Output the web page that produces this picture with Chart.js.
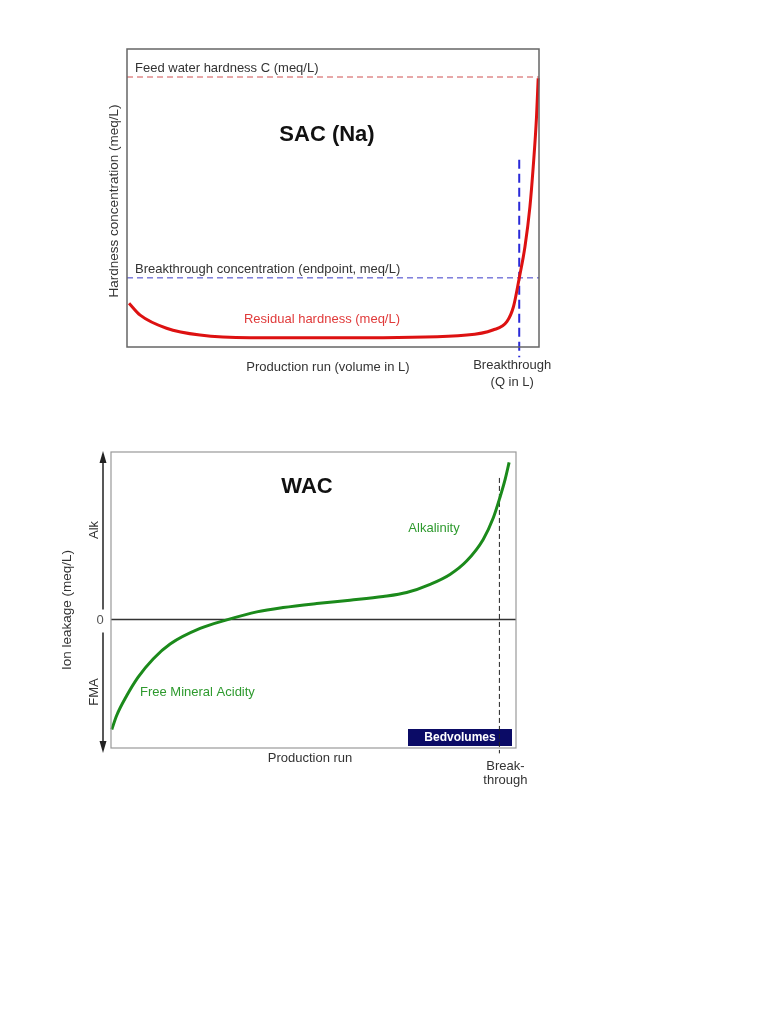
<!DOCTYPE html>
<html>
<head>
<meta charset="utf-8">
<script src="https://cdn.jsdelivr.net/npm/chart.js@4"></script>
<style>
  body { margin: 0; background: #fff; width: 768px; height: 1024px; position: relative; overflow: hidden; }
  canvas { position: absolute; left: 0; }
  #sac { top: 0; }
  #wac { top: 420px; }
</style>
</head>
<body>
<canvas id="sac" width="768" height="420"></canvas>
<canvas id="wac" width="768" height="420"></canvas>
<script>
// SAC (Na) - residual hardness over the production run (x: % of run, y: % of feed hardness)
const sacRunX = [0.5, 3.2, 9.6, 17.7, 29.9, 58.2, 82.5, 88.8, 92.2, 93.8, 95.2, 96.6, 97.8, 98.6, 99.4, 99.8];
const sacHardness = [14.7, 10.7, 6.3, 4.0, 3.1, 3.1, 4.0, 5.7, 8.5, 13.5, 23.1, 33.7, 47.1, 60.5, 77.3, 90.2];
const sacFeedLevel = 90.6;
const sacEndpointLevel = 23.2;
const sacBreakthroughX = 95.2;
const sacMarkerSpan = [62.8, -3.4];

// WAC - ion leakage (negative = free mineral acidity, positive = alkalinity)
const wacRunX = [0.2, 1.4, 3.9, 6.7, 10.4, 14.6, 22.0, 29.0, 36.0, 42.5, 50.8, 59.0, 67.2, 73.0, 78.8, 83.7, 87.8, 91.9, 94.4, 96.0, 97.3, 98.3];
const wacLeakage = [-65.7, -57.4, -45.5, -34.5, -23.6, -14.7, -5.4, 0, 4.5, 7.1, 9.5, 11.5, 13.7, 16.1, 21.0, 26.9, 34.9, 47.8, 60.7, 72.6, 83.5, 93.8];
const wacBreakthroughX = 95.9;
const wacMarkerSpan = [84.5, -80];

const FONT = '"Liberation Sans", Arial, sans-serif';

function pts(xs, ys) {
  return xs.map((x, i) => ({ x: x, y: ys[i] }));
}

function hidden(min, max) {
  return { type: 'linear', min: min, max: max, display: false };
}

function text(ctx, str, x, y, font, color, align) {
  ctx.save();
  ctx.font = font;
  ctx.fillStyle = color;
  ctx.textAlign = align || 'left';
  ctx.textBaseline = 'middle';
  ctx.fillText(str, x, y);
  ctx.restore();
}

function vtext(ctx, str, x, y, font, color) {
  ctx.save();
  ctx.translate(x, y);
  ctx.rotate(-Math.PI / 2);
  text(ctx, str, 0, 0, font, color, 'center');
  ctx.restore();
}

function frame(color, width) {
  return {
    id: 'frame',
    afterDraw(chart) {
      const a = chart.chartArea, ctx = chart.ctx;
      ctx.save();
      ctx.strokeStyle = color;
      ctx.lineWidth = width;
      ctx.strokeRect(a.left, a.top, a.right - a.left, a.bottom - a.top);
      ctx.restore();
    }
  };
}

// ---- SAC chart ----
const sacLabels = {
  id: 'sacLabels',
  afterDraw(chart) {
    const ctx = chart.ctx, a = chart.chartArea;
    const x = chart.scales.x, y = chart.scales.y;
    const f = '13px ' + FONT;
    text(ctx, 'Feed water hardness C (meq/L)', a.left + 8, y.getPixelForValue(sacFeedLevel) - 9, f, '#333');
    text(ctx, 'Breakthrough concentration (endpoint, meq/L)', a.left + 8, y.getPixelForValue(sacEndpointLevel) - 8, f, '#333');
    text(ctx, 'SAC (Na)', 327, 135, 'bold 22px ' + FONT, '#111', 'center');
    text(ctx, 'Residual hardness (meq/L)', 322, 319, f, '#e03a3a', 'center');
    text(ctx, 'Production run (volume in L)', 328, 367, f, '#333', 'center');
    const bx = x.getPixelForValue(sacBreakthroughX);
    text(ctx, 'Breakthrough', bx - 7, 365, f, '#333', 'center');
    text(ctx, '(Q in L)', bx - 7, 382, f, '#333', 'center');
    vtext(ctx, 'Hardness concentration (meq/L)', 114, 201, '13.5px ' + FONT, '#333');
  }
};

new Chart(document.getElementById('sac'), {
  type: 'line',
  data: {
    datasets: [
      {
        data: pts([0, 100], [sacFeedLevel, sacFeedLevel]),
        borderColor: '#d05050', borderWidth: 1, borderDash: [6, 4], pointRadius: 0, order: 3
      },
      {
        data: pts([0, 100], [sacEndpointLevel, sacEndpointLevel]),
        borderColor: '#3a3ac8', borderWidth: 1, borderDash: [6, 4], pointRadius: 0, order: 3
      },
      {
        data: pts([sacBreakthroughX, sacBreakthroughX], sacMarkerSpan),
        borderColor: '#2a2ad8', borderWidth: 2, borderDash: [9, 5], pointRadius: 0, order: 2
      },
      {
        data: pts(sacRunX, sacHardness),
        borderColor: '#dd1111', borderWidth: 3, pointRadius: 0,
        cubicInterpolationMode: 'monotone', order: 1
      }
    ]
  },
  options: {
    responsive: false,
    animation: false,
    layout: { padding: { left: 127, top: 49, right: 229, bottom: 73 } },
    plugins: { legend: { display: false }, tooltip: { enabled: false } },
    scales: { x: hidden(0, 100), y: hidden(0, 100) },
    elements: { line: { fill: false } },
    datasets: { line: { clip: false } }
  },
  plugins: [frame('#666', 1.5), sacLabels]
});

// ---- WAC chart (canvas sits 420px down the page) ----
const wacTag = {
  id: 'wacTag',
  beforeDatasetsDraw(chart) {
    const ctx = chart.ctx, top = chart.chartArea.top;
    ctx.save();
    ctx.fillStyle = '#0b0b66';
    ctx.fillRect(408, top + 277, 104, 17);
    ctx.restore();
    text(ctx, 'Bedvolumes', 460, top + 286, 'bold 12px ' + FONT, '#fff', 'center');
  }
};

const wacLabels = {
  id: 'wacLabels',
  afterDraw(chart) {
    const ctx = chart.ctx, a = chart.chartArea;
    const x = chart.scales.x, y = chart.scales.y;
    const f = '13px ' + FONT;
    const zero = y.getPixelForValue(0);
    const top = a.top;   // page y 452

    // left axis arrow, broken around the 0 label
    const ax = 103;
    ctx.save();
    ctx.strokeStyle = '#222';
    ctx.fillStyle = '#222';
    ctx.lineWidth = 1.5;
    ctx.beginPath();
    ctx.moveTo(ax, a.top + 4); ctx.lineTo(ax, zero - 10);
    ctx.moveTo(ax, zero + 13); ctx.lineTo(ax, a.bottom - 2);
    ctx.stroke();
    ctx.beginPath();
    ctx.moveTo(ax, a.top - 1); ctx.lineTo(ax - 3.5, a.top + 11); ctx.lineTo(ax + 3.5, a.top + 11); ctx.closePath();
    ctx.fill();
    ctx.beginPath();
    ctx.moveTo(ax, a.bottom + 5); ctx.lineTo(ax - 3.5, a.bottom - 7); ctx.lineTo(ax + 3.5, a.bottom - 7); ctx.closePath();
    ctx.fill();
    ctx.restore();

    text(ctx, '0', 100, zero + 1, f, '#555', 'center');
    vtext(ctx, 'Alk', 94, top + 78, f, '#333');
    vtext(ctx, 'FMA', 94, top + 240, f, '#333');
    vtext(ctx, 'Ion leakage (meq/L)', 67, top + 158, '13.5px ' + FONT, '#333');

    text(ctx, 'WAC', 307, top + 35, 'bold 22px ' + FONT, '#111', 'center');
    text(ctx, 'Alkalinity', 434, top + 76, f, '#2e9a2e', 'center');
    text(ctx, 'Free Mineral Acidity', 140, top + 240, f, '#2e9a2e', 'left');
    text(ctx, 'Production run', 310, top + 306, f, '#333', 'center');
    const bx = x.getPixelForValue(wacBreakthroughX);
    text(ctx, 'Break-', bx + 6, top + 314, f, '#333', 'center');
    text(ctx, 'through', bx + 6, top + 328, f, '#333', 'center');
  }
};

new Chart(document.getElementById('wac'), {
  type: 'line',
  data: {
    datasets: [
      {
        data: pts([0, 100], [0, 0]),
        borderColor: '#333', borderWidth: 1.5, pointRadius: 0, order: 3
      },
      {
        data: pts([wacBreakthroughX, wacBreakthroughX], wacMarkerSpan),
        borderColor: '#222', borderWidth: 1, borderDash: [5, 3], pointRadius: 0, order: 2
      },
      {
        data: pts(wacRunX, wacLeakage),
        borderColor: '#1b8a1b', borderWidth: 3, pointRadius: 0,
        cubicInterpolationMode: 'monotone', order: 1
      }
    ]
  },
  options: {
    responsive: false,
    animation: false,
    layout: { padding: { left: 111, top: 32, right: 252, bottom: 92 } },
    plugins: { legend: { display: false }, tooltip: { enabled: false } },
    scales: { x: hidden(0, 100), y: hidden(-76.8, 100) },
    elements: { line: { fill: false } },
    datasets: { line: { clip: false } }
  },
  plugins: [frame('#999', 1.2), wacTag, wacLabels]
});
</script>
</body>
</html>
